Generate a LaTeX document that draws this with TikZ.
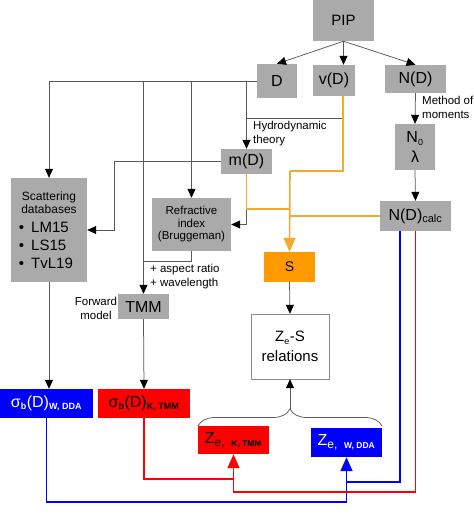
\documentclass[tikz,border=0pt]{standalone}
\usepackage{fontspec}
\setmainfont{Liberation Sans}
\usetikzlibrary{arrows.meta,decorations.pathreplacing}

\definecolor{boxgray}{RGB}{170,170,170}
\definecolor{sorange}{RGB}{255,153,0}
\definecolor{lorange}{RGB}{244,170,48}
\definecolor{zred}{RGB}{255,0,0}
\definecolor{zblue}{RGB}{0,0,255}

\tikzset{
	box/.style={fill=boxgray, inner sep=0pt, align=center, font=\fontsize{16}{18}\selectfont},
	note/.style={inner sep=0pt, align=left, font=\fontsize{11.5}{13.5}\selectfont},
	link/.style={draw=black!65, line width=0.75pt},
	flow/.style={link, -{Triangle[length=9pt,width=8pt,color=black]}},
	oline/.style={draw=lorange, line width=1.6pt},
	rline/.style={draw=zred, line width=1.6pt},
	bline/.style={draw=zblue, line width=1.6pt},
	bigtip/.style={-{Triangle[length=14pt,width=12pt]}},
}

\newcommand{\smallsub}[2]{\textsubscript{\fontsize{#1}{#1}\selectfont #2}}

\begin{document}
\begin{tikzpicture}[x=1pt,y=-1pt]
	\useasboundingbox (0,0) rectangle (474,520);

	% measured
	\node[box, minimum width=61pt, minimum height=41pt, font=\fontsize{15}{18}\selectfont] (pip) at (343.5,20.5) {PIP};
	\node[box, minimum width=40pt, minimum height=34pt] (d) at (277,81) {D};
	\node[box, minimum width=42pt, minimum height=31pt] (vd) at (334,80.5) {v(D)};
	\node[box, minimum width=61pt, minimum height=28pt] (nd) at (415.5,79) {N(D)};

	% calculated
	\node[box, minimum width=51pt, minimum height=25pt] (md) at (246.5,161.5) {m(D)};
	\node[box, minimum width=40pt, minimum height=46pt, font=\fontsize{16}{20}\selectfont] (nlam) at (415,147) {N\smallsub{9}{0}\\λ};
	\node[box, minimum width=71pt, minimum height=30pt] (ndc) at (415.5,216) {N(D)\smallsub{11}{calc}};
	\node[box, minimum width=79pt, minimum height=53pt, font=\fontsize{11.5}{12.5}\selectfont] (refr) at (191.5,224.5) {Refractive\\index\\(Bruggeman)};
	\node[box, text width=76pt, minimum height=104pt, align=left] (scat) at (49,230)
		{{\centering\fontsize{12}{13.5}\selectfont Scattering\\databases\par}\vspace{1pt}%
		\fontsize{15}{18}\selectfont\hspace*{8pt}\textbullet\hspace{7pt}LM15\\
		\hspace*{8pt}\textbullet\hspace{7pt}LS15\\
		\hspace*{8pt}\textbullet\hspace{7pt}TvL19\par\vspace*{16pt}};
	\node[box, minimum width=51pt, minimum height=30pt, fill=sorange, font=\fontsize{14}{16}\selectfont] (s) at (289.5,267) {S};
	\node[box, minimum width=51pt, minimum height=25pt] (tmm) at (143.5,306.5) {TMM};
	\node[box, fill=white, draw=black!45, minimum width=78pt, minimum height=65pt, font=\fontsize{15}{19.5}\selectfont] (zs) at (290,346.5) {Z\smallsub{9}{e}-S\\relations};

	% simulated
	\node[box, fill=zblue, text=white, minimum width=93pt, minimum height=29pt] (sigw) at (46.5,403.5)
		{σ\smallsub{9}{\bfseries b}(D)\smallsub{9}{\bfseries W, DDA}};
	\node[box, fill=zred, minimum width=92pt, minimum height=29pt] (sigk) at (144,403.5)
		{σ\smallsub{9}{\bfseries b}(D)\smallsub{9}{\bfseries K, TMM}};
	\node[box, fill=zred, minimum width=71pt, minimum height=28pt] (zk) at (233.5,440)
		{Z\smallsub{12}{e,\ \ \fontsize{8.5}{9}\selectfont\bfseries K, TMM}};
	\node[box, fill=zblue, text=white, minimum width=71pt, minimum height=29pt] (zw) at (346.5,442.5)
		{Z\smallsub{12}{e,\ \ \fontsize{8.5}{9}\selectfont\bfseries W, DDA}};

	% side notes
	\node[note, anchor=north west] (hyd) at (253,121) {Hydrodynamic\\theory};
	\node[note, anchor=north west] (mom) at (422,96) {Method of\\moments};
	\node[note, anchor=north west] (asp) at (150,264) {+ aspect ratio\\+ wavelength};
	\node[note, align=center] (fwd) at (96,308.5) {Forward\\model};

	% bend points
	\coordinate (vout) at (343,96);
	\coordinate (vj) at (246.5,118);
	\coordinate (mbend) at (114,230);
	\coordinate (rj) at (143.5,261);
	\coordinate (oj) at (290,171);
	\coordinate (mj) at (290,209);
	\coordinate (bout) at (400,231);
	\coordinate (btip) at (290,409);

	% gray connectors
	\draw[flow] (pip.south) -- (d.north);
	\draw[flow] (pip.south) -- (pip.south |- vd.north);
	\draw[flow] (pip.south) -- (nd.north);
	\draw[flow] (d.west) -| (scat.north);
	\draw[flow] (d.west -| md.north) -- (md.north);
	\draw[flow] (d.west -| refr.north) -- (refr.north);
	\draw[flow] (d.west -| tmm.north) -- (tmm.north);
	\draw[link] (vout) |- (vj);
	\draw[flow] (md.west) -| (mbend) -- (scat.east);
	\draw[flow] (md.south) |- (refr.east);
	\draw[link] (refr.south) |- (rj);
	\draw[flow] (nd.south) -- (nlam.north);
	\draw[flow] (nlam.south) -- (ndc.north);
	\draw[flow] (scat.south) -- (scat.south |- sigw.north);
	\draw[flow] (tmm.south) -- (sigk.north);
	\draw[flow] (s.south) -- (zs.north);
	\draw[link, decorate, decoration={brace, amplitude=17pt, aspect=0.5}] (198,426) -- (382,426);
	\draw[flow] (btip) -- (zs.south);

	% orange connectors
	\draw[oline] (vout) |- (oj);
	\draw[oline] (md.south) |- (mj);
	\draw[oline] (ndc.west) -- (ndc.west -| s.north);
	\draw[oline, bigtip] (oj) -- (s.north);

	% red and blue connectors
	\draw[bline] (bout) |- (346.5,482);
	\draw[bline, bigtip] (sigw.south) |- (346.5,502) -- (zw.south);
	\draw[rline] (sigk.south) |- (233.5,479);
	\draw[rline, bigtip] (ndc.south) |- (233.5,492) -- (zk.south);
\end{tikzpicture}
\end{document}
